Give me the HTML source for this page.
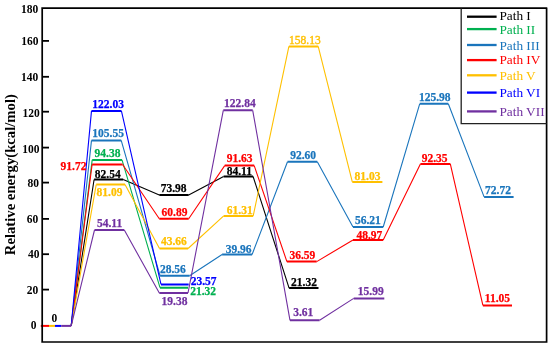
<!DOCTYPE html><html><head><meta charset="utf-8"><title>Relative energy profile</title><style>html,body{margin:0;padding:0;background:#fff;}svg{display:block;}.n{font-family:"Liberation Serif","Times New Roman",serif;font-weight:bold;font-size:11.5px;stroke-width:0.25px;}.t{font-family:"Liberation Serif","Times New Roman",serif;font-weight:bold;font-size:11.5px;stroke-width:0.25px;}.lg{font-family:"Liberation Serif","Times New Roman",serif;font-size:13.3px;}.yt{font-family:"Liberation Serif","Times New Roman",serif;font-weight:bold;font-size:14.7px;}</style></head><body>
<svg width="550" height="348" viewBox="0 0 550 348">
<rect width="550" height="348" fill="#fff"/>
<path d="M71.2 325.9L94.1 179.5 M123.2 179.5L159.3 194.9 M188.7 194.9L223.6 176.5 M253.1 176.5L289.1 288.1" stroke="#000000" stroke-width="1.1" fill="none"/>
<path d="M71.2 325.9L92.2 159.9 M122.0 159.9L160.0 287.7" stroke="#00B050" stroke-width="1.1" fill="none"/>
<path d="M71.2 325.9L91.5 140.4 M121.2 140.4L160.1 275.8 M189.6 275.8L222.1 254.5 M252.1 254.5L287.5 161.8 M317.3 161.8L353.0 227.0 M383.2 227.0L419.7 103.8 M448.3 103.8L484.1 196.9" stroke="#1A75BC" stroke-width="1.1" fill="none"/>
<path d="M71.2 325.9L92.1 164.5 M122.6 164.5L159.3 218.7 M188.7 218.7L224.7 165.6 M254.2 165.6L286.9 261.6 M316.7 261.6L353.0 240.0 M383.2 240.0L420.4 163.9 M450.3 163.9L482.9 305.4" stroke="#FF0000" stroke-width="1.1" fill="none"/>
<path d="M71.2 325.9L96.2 184.6 M125.0 184.6L159.5 248.5 M188.1 248.5L223.7 215.9 M253.2 215.9L288.9 46.4 M318.2 46.4L352.3 181.9" stroke="#FFC000" stroke-width="1.1" fill="none"/>
<path d="M71.2 325.9L91.5 110.9 M121.4 110.9L161.0 284.4" stroke="#0000FF" stroke-width="1.1" fill="none"/>
<path d="M71.2 325.9L94.5 230.0 M124.3 230.0L159.3 293.0 M188.0 293.0L223.3 110.3 M252.7 110.3L290.0 320.3 M319.6 320.3L353.7 298.4" stroke="#7030A0" stroke-width="1.1" fill="none"/>
<path d="M94.1 179.5H123.2 M159.3 194.9H188.7 M223.6 176.5H253.1 M289.1 288.1H318.5" stroke="#000000" stroke-width="2.0" fill="none"/>
<path d="M92.2 159.9H122.0 M160.0 287.7H188.0" stroke="#00B050" stroke-width="2.0" fill="none"/>
<path d="M91.5 140.4H121.2 M160.1 275.8H189.6 M222.1 254.5H252.1 M287.5 161.8H317.3 M353.0 227.0H383.2 M419.7 103.8H448.3 M484.1 196.9H513.6" stroke="#1A75BC" stroke-width="2.0" fill="none"/>
<path d="M92.1 164.5H122.6 M159.3 218.7H188.7 M224.7 165.6H254.2 M286.9 261.6H316.7 M353.0 240.0H383.2 M420.4 163.9H450.3 M482.9 305.4H512.0" stroke="#FF0000" stroke-width="2.0" fill="none"/>
<path d="M96.2 184.6H125.0 M159.5 248.5H188.1 M223.7 215.9H253.2 M288.9 46.4H318.2 M352.3 181.9H382.4" stroke="#FFC000" stroke-width="2.0" fill="none"/>
<path d="M91.5 110.9H121.4 M161.0 284.4H188.7" stroke="#0000FF" stroke-width="2.0" fill="none"/>
<path d="M94.5 230.0H124.3 M159.3 293.0H188.0 M223.3 110.3H252.7 M290.0 320.3H319.6 M353.7 298.4H384.3" stroke="#7030A0" stroke-width="2.0" fill="none"/>
<path d="M40.8 325.9H49.0" stroke="#FF0000" stroke-width="2" fill="none"/>
<path d="M49.0 325.9H55.0" stroke="#FFC000" stroke-width="2" fill="none"/>
<path d="M55.0 325.9H61.2" stroke="#0000FF" stroke-width="2" fill="none"/>
<path d="M61.2 325.9H71.2" stroke="#7030A0" stroke-width="2" fill="none"/>
<text class="n" x="94.8" y="178.3" fill="#000000" stroke="#000000">82.54</text>
<text class="n" x="160.7" y="192.1" fill="#000000" stroke="#000000">73.98</text>
<text class="n" x="226.7" y="174.5" fill="#000000" stroke="#000000">84.11</text>
<text class="n" x="291.1" y="285.9" fill="#000000" stroke="#000000">21.32</text>
<text class="n" x="94.5" y="157.3" fill="#00B050" stroke="#00B050">94.38</text>
<text class="n" x="190.2" y="295.1" fill="#00B050" stroke="#00B050">21.32</text>
<text class="n" x="92.3" y="137.0" fill="#1A75BC" stroke="#1A75BC">105.55</text>
<text class="n" x="159.9" y="273.0" fill="#1A75BC" stroke="#1A75BC">28.56</text>
<text class="n" x="225.7" y="252.5" fill="#1A75BC" stroke="#1A75BC">39.96</text>
<text class="n" x="290.2" y="158.6" fill="#1A75BC" stroke="#1A75BC">92.60</text>
<text class="n" x="354.9" y="224.4" fill="#1A75BC" stroke="#1A75BC">56.21</text>
<text class="n" x="418.9" y="100.9" fill="#1A75BC" stroke="#1A75BC">125.98</text>
<text class="n" x="485.1" y="194.0" fill="#1A75BC" stroke="#1A75BC">72.72</text>
<text class="n" x="60.6" y="170.3" fill="#FF0000" stroke="#FF0000">91.72</text>
<text class="n" x="161.5" y="215.5" fill="#FF0000" stroke="#FF0000">60.89</text>
<text class="n" x="226.7" y="162.0" fill="#FF0000" stroke="#FF0000">91.63</text>
<text class="n" x="289.4" y="259.2" fill="#FF0000" stroke="#FF0000">36.59</text>
<text class="n" x="356.4" y="238.5" fill="#FF0000" stroke="#FF0000">48.97</text>
<text class="n" x="421.7" y="161.6" fill="#FF0000" stroke="#FF0000">92.35</text>
<text class="n" x="484.8" y="301.6" fill="#FF0000" stroke="#FF0000">11.05</text>
<text class="n" x="96.5" y="195.5" fill="#FFC000" stroke="#FFC000">81.09</text>
<text class="n" x="160.9" y="245.2" fill="#FFC000" stroke="#FFC000">43.66</text>
<text class="n" x="226.8" y="213.7" fill="#FFC000" stroke="#FFC000">61.31</text>
<text class="n" x="289.1" y="44.4" fill="#FFC000" stroke="#FFC000" style="font-weight:normal;stroke-width:0.35px">158.13</text>
<text class="n" x="354.6" y="180.1" fill="#FFC000" stroke="#FFC000">81.03</text>
<text class="n" x="92.3" y="107.6" fill="#0000FF" stroke="#0000FF">122.03</text>
<text class="n" x="190.7" y="284.7" fill="#0000FF" stroke="#0000FF">23.57</text>
<text class="n" x="96.9" y="226.9" fill="#7030A0" stroke="#7030A0">54.11</text>
<text class="n" x="161.5" y="304.9" fill="#7030A0" stroke="#7030A0">19.38</text>
<text class="n" x="224.0" y="107.2" fill="#7030A0" stroke="#7030A0">122.84</text>
<text class="n" x="293.2" y="316.3" fill="#7030A0" stroke="#7030A0">3.61</text>
<text class="n" x="357.8" y="295.4" fill="#7030A0" stroke="#7030A0">15.99</text>
<text class="n" x="51.6" y="322.3" fill="#000">0</text>
<path d="M42.2 8.2V342M41.3 342H547M41.3 8.2H547M546.6 7.4V342.8" stroke="#000" stroke-width="1.7" fill="none"/>
<path d="M42 40.9H49" stroke="#000" stroke-width="1.8"/>
<path d="M42 76.8H49" stroke="#000" stroke-width="1.8"/>
<path d="M42 111.7H49" stroke="#000" stroke-width="1.8"/>
<path d="M42 147.6H49" stroke="#000" stroke-width="1.8"/>
<path d="M42 182.6H49" stroke="#000" stroke-width="1.8"/>
<path d="M42 218.9H49" stroke="#000" stroke-width="1.8"/>
<path d="M42 254.2H49" stroke="#000" stroke-width="1.8"/>
<path d="M42 289.6H49" stroke="#000" stroke-width="1.8"/>
<text class="t" x="38.3" y="12.8" text-anchor="end">180</text>
<text class="t" x="38.5" y="45.0" text-anchor="end">160</text>
<text class="t" x="38.2" y="80.8" text-anchor="end">140</text>
<text class="t" x="39.8" y="116.8" text-anchor="end">120</text>
<text class="t" x="39.6" y="152.9" text-anchor="end">100</text>
<text class="t" x="38.9" y="187.4" text-anchor="end">80</text>
<text class="t" x="38.2" y="222.5" text-anchor="end">60</text>
<text class="t" x="39.4" y="257.8" text-anchor="end">40</text>
<text class="t" x="38.3" y="293.8" text-anchor="end">20</text>
<text class="t" x="36.4" y="328.9" text-anchor="end">0</text>
<text class="yt" transform="translate(15.3 255.2) rotate(-90)">Relative energy(kcal/mol)</text>
<path d="M461.2 8.2V123.7H546.6" stroke="#222" stroke-width="1.3" fill="none"/>
<path d="M467 16.7H496.6" stroke="#000000" stroke-width="2.3"/>
<text class="lg" x="499.4" y="20.2" fill="#000000">Path I</text>
<path d="M467 29.1H496.6" stroke="#00B050" stroke-width="2.3"/>
<text class="lg" x="499.4" y="33.8" fill="#00B050">Path II</text>
<path d="M467 45.0H496.6" stroke="#1A75BC" stroke-width="2.3"/>
<text class="lg" x="499.4" y="49.5" fill="#1A75BC">Path III</text>
<path d="M467 60.1H496.6" stroke="#FF0000" stroke-width="2.3"/>
<text class="lg" x="499.4" y="64.2" fill="#FF0000">Path IV</text>
<path d="M467 75.3H496.6" stroke="#FFC000" stroke-width="2.3"/>
<text class="lg" x="499.4" y="79.7" fill="#FFC000">Path V</text>
<path d="M467 92.6H496.6" stroke="#0000FF" stroke-width="2.3"/>
<text class="lg" x="499.4" y="97.4" fill="#0000FF">Path VI</text>
<path d="M467 111.4H496.6" stroke="#7030A0" stroke-width="2.3"/>
<text class="lg" x="499.4" y="116.2" fill="#7030A0">Path VII</text>
</svg></body></html>
